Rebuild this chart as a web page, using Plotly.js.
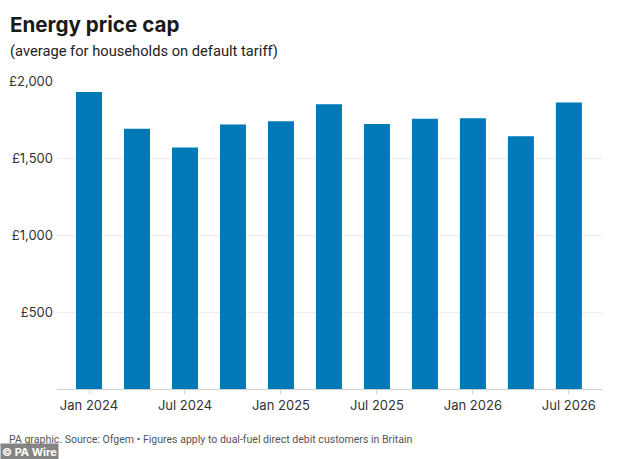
<!DOCTYPE html>
<html>
<head>
<meta charset="utf-8">
<script src="https://cdn.plot.ly/plotly-3.0.1.min.js"></script>
<style>
html,body{margin:0;padding:0;background:#fff;}
#chart{width:634px;height:459px;}
</style>
</head>
<body>
<div id="chart"></div>
<script>
const categories = ["Jan 2024","Apr 2024","Jul 2024","Oct 2024","Jan 2025","Apr 2025","Jul 2025","Oct 2025","Jan 2026","Apr 2026","Jul 2026"];
const priceCap = [1928, 1690, 1568, 1717, 1738, 1849, 1720, 1755, 1758, 1641, 1860];
const xTickLabels = ["Jan 2024","Jul 2024","Jan 2025","Jul 2025","Jan 2026","Jul 2026"];
const yTickValues = [500, 1000, 1500, 2000];
const yTickLabels = ["£500","£1,000","£1,500","£2,000"];

const xIdx = categories.map((c,i)=>i);
const xTickIdx = xTickLabels.map(l => categories.indexOf(l));

const font = "Inter, 'Open Sans', sans-serif";
const font2 = "Roboto, Inter, sans-serif";

const trace = {
  type: "bar",
  x: xIdx,
  y: priceCap,
  text: categories,
  hoverinfo: "text+y",
  textposition: "none",
  marker: {color: "#0079b7", line: {width: 0}}
};

const layout = {
  width: 634, height: 459,
  margin: {l: 57, r: 32, t: 81, b: 69.5},
  paper_bgcolor: "#fff",
  plot_bgcolor: "#fff",
  bargap: 0.458,
  showlegend: false,
  font: {family: font, color: "#333", size: 13},
  xaxis: {
    range: [-0.667, 10.69],
    tickvals: xTickIdx,
    ticktext: xTickLabels,
    ticks: "outside",
    ticklen: 4,
    tickcolor: "#cfcfcf",
    tickwidth: 1,
    showline: true,
    linecolor: "#cfcfcf",
    linewidth: 1.2,
    showgrid: false,
    zeroline: false,
    tickfont: {family: font, size: 13, color: "#333"},
    fixedrange: true
  },
  yaxis: {
    range: [0, 2000],
    tickvals: yTickValues,
    ticktext: yTickLabels,
    showgrid: true,
    gridcolor: "#ececec",
    gridwidth: 1,
    zeroline: false,
    showline: false,
    ticks: "",
    ticklabelstandoff: 3,
    tickfont: {family: font, size: 13, color: "#333"},
    fixedrange: true
  },
  annotations: [
    {text: "<b>Energy price cap</b>", showarrow: false, font: {family: font, size: 20.6, color: "#1a1a1a"}},
    {text: "(average for households on default tariff)", showarrow: false, font: {family: font2, size: 14.7, color: "#222"}},
    {text: "PA graphic. Source: Ofgem • Figures apply to dual-fuel direct debit customers in Britain", showarrow: false, font: {family: font2, size: 10.55, color: "#555"}},
    {text: "<b>© PA Wire</b>", showarrow: false, font: {family: font, size: 11, color: "#fff"}, bgcolor: "rgba(110,110,110,0.85)", borderpad: 1}
  ]
};

const plotW = 634 - layout.margin.l - layout.margin.r;
const plotH = 459 - layout.margin.t - layout.margin.b;
function px(xp){ return (xp - layout.margin.l) / plotW; }
function py(yp){ return (459 - layout.margin.b - yp) / plotH; }
const pos = [
  {x: 8, y: 24},
  {x: 8, y: 51},
  {x: 7, y: 440},
  {x: 0, y: 453}
];
layout.annotations.forEach((a,i)=>{
  a.xref = "paper"; a.yref = "paper";
  a.x = px(pos[i].x); a.y = py(pos[i].y);
  a.xanchor = "left"; a.yanchor = "middle";
});

Plotly.newPlot("chart", [trace], layout, {displayModeBar: false, staticPlot: true});
</script>
</body>
</html>
